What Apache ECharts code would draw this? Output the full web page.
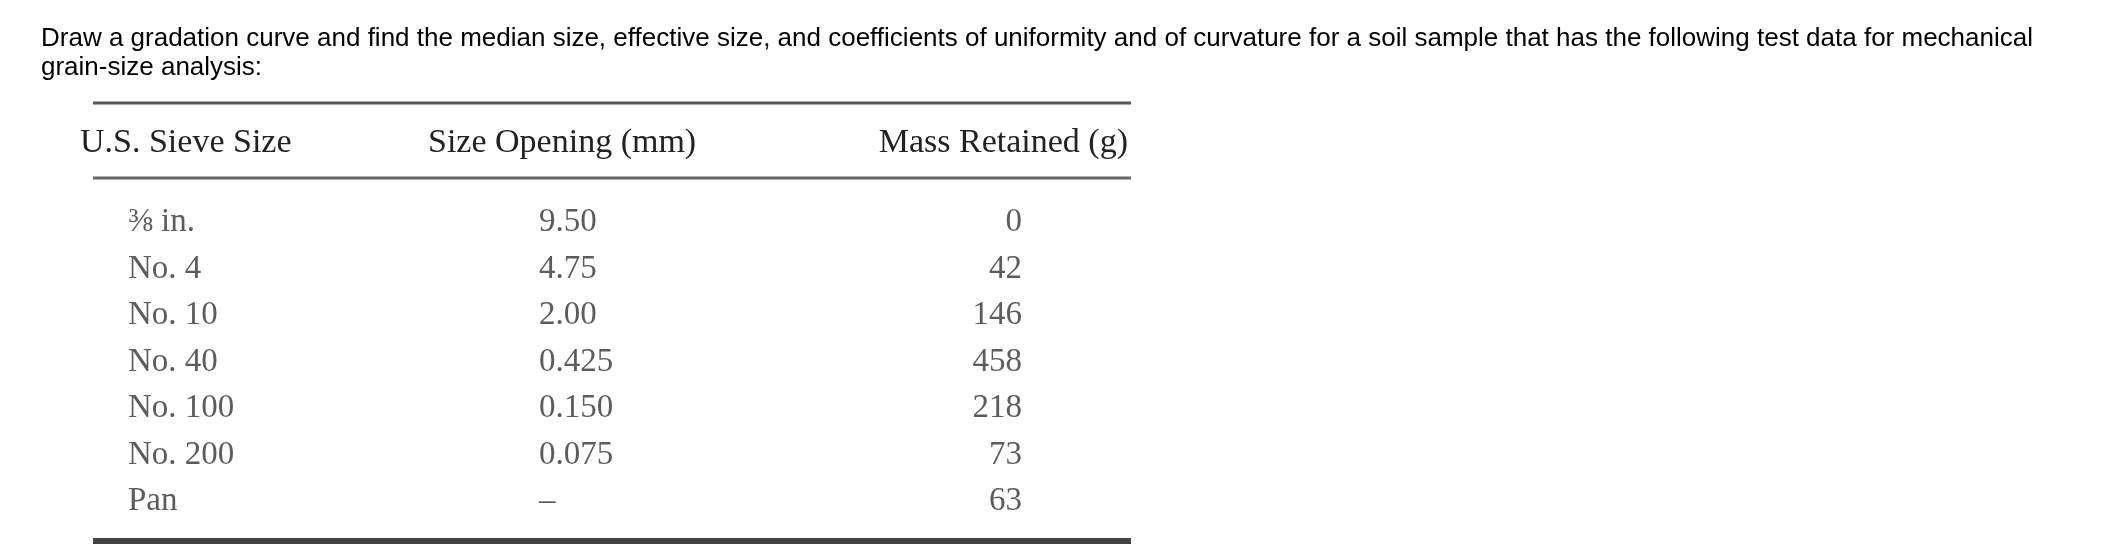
<!DOCTYPE html>
<html>
<head>
<meta charset="utf-8">
<script src="https://cdn.jsdelivr.net/npm/echarts@6/dist/echarts.min.js"></script>
<style>html,body{margin:0;background:#fff}#c{width:2124px;height:556px}</style>
</head>
<body>
<div id="c"></div>
<script>
const sieves = ['⅜ in.', 'No. 4', 'No. 10', 'No. 40', 'No. 100', 'No. 200', 'Pan'];
const openings = ['9.50', '4.75', '2.00', '0.425', '0.150', '0.075', '–'];
const massRetained = [0, 42, 146, 458, 218, 73, 63];
const headers = ['U.S. Sieve Size', 'Size Opening (mm)', 'Mass Retained (g)'];

const chart = echarts.init(document.getElementById('c'));
const serif = 'Liberation Serif';
const cellColor = '#333';

// column anchor x (px) and alignment
const cols = [
  { x: 128, align: 'left' },
  { x: 539, align: 'left' },
  { x: 1022, align: 'right' },
];

function colSeries(i, values) {
  return {
    type: 'scatter',
    symbolSize: 0,
    silent: true,
    data: values.map((v, r) => ({ value: [cols[i].x, r], text: String(v) })),
    label: {
      show: true,
      position: 'inside',
      align: cols[i].align,
      verticalAlign: 'middle',
      formatter: (p) => p.data.text,
      fontFamily: serif,
      fontSize: 33,
      color: cellColor,
    },
  };
}

const option = {
  animation: false,
  title: {
    text: 'Draw a gradation curve and find the median size, effective size, and coefficients of uniformity and of curvature for a soil sample that has the following test data for mechanical\ngrain-size analysis:',
    left: 36,
    top: 19,
    textStyle: { fontFamily: 'Liberation Sans', fontSize: 26, fontWeight: 'normal', color: '#000', lineHeight: 29 },
  },
  grid: { left: 0, right: 0, top: 199, height: 326 },
  xAxis: { type: 'value', min: 0, max: 2124, show: false },
  yAxis: { type: 'category', data: sieves, inverse: true, show: false },
  series: [
    colSeries(0, sieves),
    colSeries(1, openings),
    colSeries(2, massRetained),
  ],
  graphic: [
    { type: 'line', shape: { x1: 93, y1: 103, x2: 1131, y2: 103 }, style: { stroke: '#555', lineWidth: 3 } },
    { type: 'line', shape: { x1: 93, y1: 178, x2: 1131, y2: 178 }, style: { stroke: '#666', lineWidth: 3 } },
    { type: 'line', shape: { x1: 93, y1: 541, x2: 1131, y2: 541 }, style: { stroke: '#444', lineWidth: 6 } },
    { type: 'text', left: 80, top: 126, style: { text: headers[0], font: '34px ' + serif, fill: '#222' } },
    { type: 'text', left: 428, top: 126, style: { text: headers[1], font: '34px ' + serif, fill: '#222' } },
    { type: 'text', right: 2124 - 1128, top: 126, style: { text: headers[2], font: '34px ' + serif, fill: '#222' } },
  ],
};
chart.setOption(option);
</script>
</body>
</html>
